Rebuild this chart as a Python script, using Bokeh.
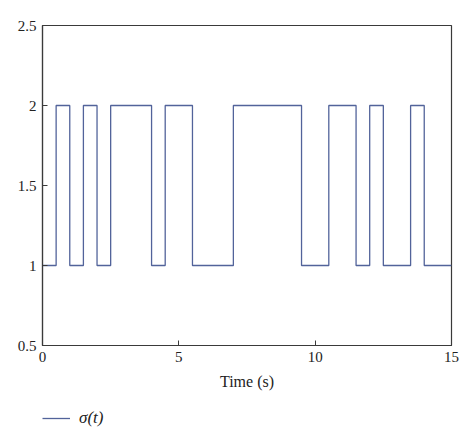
from bokeh.plotting import figure
from bokeh.layouts import column
from bokeh.models import FixedTicker, Legend, LegendItem, Range1d
from bokeh.embed import file_html
from bokeh.resources import INLINE

# switching instants (s) and mode value held from that instant
t_switch = [0, 0.5, 1, 1.5, 2, 2.5, 4, 4.5, 5.5, 7, 9.5, 10.5, 11.5, 12, 12.5, 13.5, 14, 15]
sigma = [1, 2, 1, 2, 1, 2, 1, 2, 1, 2, 1, 2, 1, 2, 1, 2, 1, 1]

x_ticks = [0, 5, 10, 15]
y_ticks = [0.5, 1, 1.5, 2, 2.5]
y_labels = ["0.5", "1", "1.5", "2", "2.5"]
series_label = "σ(t)"

FONT = "Liberation Serif"
AX = "#3a3a3a"
LINE = "#52639a"

p = figure(width=466, height=397, output_backend="svg", toolbar_location=None,
           x_range=Range1d(0, 15), y_range=Range1d(0.5, 2.5),
           x_axis_label="Time (s)")
p.min_border_left = 42
p.min_border_right = 15
p.min_border_top = 25
p.min_border_bottom = 52
p.grid.visible = False
p.outline_line_color = AX
p.outline_line_width = 1.2

r = p.step(t_switch, sigma, mode="after", line_color=LINE, line_width=1.3)

def style(ax):
    ax.axis_line_color = AX
    ax.axis_line_width = 1.2
    ax.major_tick_line_color = AX
    ax.major_tick_in = 5
    ax.major_tick_out = 0
    ax.minor_tick_line_color = None
    ax.major_label_text_font = FONT
    ax.major_label_text_font_size = "15px"
    ax.major_label_text_color = "#222222"

xa = p.xaxis[0]
xa.ticker = FixedTicker(ticks=x_ticks)
style(xa)
xa.major_label_standoff = 6
xa.axis_label_text_font = FONT
xa.axis_label_text_font_style = "normal"
xa.axis_label_text_font_size = "16px"
xa.axis_label_text_color = "#222222"
xa.axis_label_standoff = 8

ya = p.yaxis[0]
ya.ticker = FixedTicker(ticks=y_ticks)
ya.major_label_overrides = {k: v for k, v in zip(y_ticks, y_labels)}
style(ya)
ya.major_label_standoff = 6

# legend strip below the chart
p2 = figure(width=466, height=40, output_backend="svg", toolbar_location=None,
            x_range=Range1d(0, 1), y_range=Range1d(0, 1))
p2.min_border = 0
p2.axis.visible = False
p2.grid.visible = False
p2.outline_line_color = None
lr = p2.line([0, 1], [-5, -5], line_color=LINE, line_width=1.3)
legend = Legend(items=[LegendItem(label=series_label, renderers=[lr])],
                location=(0, 9), orientation="horizontal",
                border_line_color=None, background_fill_alpha=0,
                label_text_font=FONT, label_text_font_style="italic",
                label_text_font_size="17px", label_text_color="#222222",
                glyph_width=28, label_standoff=9,
                margin=0, padding=4)
p2.add_layout(legend)

open("out.html", "w").write(file_html(column(p, p2), INLINE))
